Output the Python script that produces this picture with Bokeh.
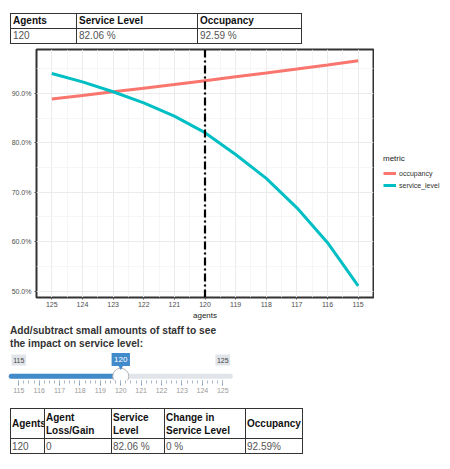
from bokeh.plotting import figure
from bokeh.models import (Range1d, FixedTicker, PrintfTickFormatter, Span, Legend,
                          LegendItem, Div)
from bokeh.layouts import column, row
from bokeh.embed import file_html
from bokeh.resources import INLINE
from bokeh.core.properties import value

# ---------------- data ----------------
agents = [125, 124, 123, 122, 121, 120, 119, 118, 117, 116, 115]
service_level = [94.05, 92.35, 90.35, 88.10, 85.40, 82.06, 77.65, 72.80, 66.85, 59.80, 51.05]
occupancy = [88.89, 89.60, 90.33, 91.07, 91.82, 92.59, 93.37, 94.16, 94.96, 95.78, 96.61]
series_names = ["occupancy", "service_level"]
x_ticks = [115, 116, 117, 118, 119, 120, 121, 122, 123, 124, 125]
y_ticks = [50, 60, 70, 80, 90]
selected_agents = 120
selected_sl = "82.06 %"
selected_occ = "92.59 %"
selected_occ2 = "92.59%"
loss_gain = "0"
sl_change = "0 %"
slider_min, slider_max = 115, 125
intro_text = "Add/subtract small amounts of staff to see the impact on service level:"

FONT = "Liberation Sans"
C_OCC = "#F8766D"
C_SL = "#00BFC4"

# ---------------- top table ----------------
cell = "border:1px solid #333;padding:0 2px;text-align:left;overflow:hidden;white-space:nowrap;"
top_html = f"""
<table style="border-collapse:collapse;table-layout:fixed;width:291px;margin:13px 0 0 10px;
font-family:'{FONT}',Arial,sans-serif;font-size:10px;line-height:12px;">
<colgroup><col style="width:66px"><col style="width:121px"><col style="width:104px"></colgroup>
<tr style="height:15px">
<th style="{cell}font-weight:bold;color:#111;">Agents</th>
<th style="{cell}font-weight:bold;color:#111;">Service Level</th>
<th style="{cell}font-weight:bold;color:#111;">Occupancy</th></tr>
<tr style="height:15px">
<td style="{cell}color:#555;">{selected_agents}</td>
<td style="{cell}color:#555;">{selected_sl}</td>
<td style="{cell}color:#555;">{selected_occ}</td></tr>
</table>"""
top_div = Div(text=top_html, width=440, height=46, margin=(0, 0, 0, 0))

# ---------------- chart ----------------
p = figure(width=374, height=278, x_range=Range1d(125.5, 114.5), y_range=Range1d(48.7, 98.9),
           output_backend="svg", toolbar_location=None,
           min_border_left=36, min_border_right=1, min_border_top=3, min_border_bottom=27)
p.background_fill_color = "white"
p.border_fill_color = "white"
p.outline_line_color = "#333333"
p.outline_line_width = 2

p.xaxis.ticker = FixedTicker(ticks=x_ticks, minor_ticks=[t + 0.5 for t in x_ticks[:-1]])
p.yaxis.ticker = FixedTicker(ticks=y_ticks, minor_ticks=[t + 5 for t in y_ticks])
p.yaxis.formatter = PrintfTickFormatter(format="%.1f%%")
for ax in (p.xaxis[0], p.yaxis[0]):
    ax.axis_line_color = None
    ax.major_tick_line_color = "#555555"
    ax.major_tick_out = 2
    ax.major_tick_in = 0
    ax.minor_tick_line_color = None
    ax.major_label_text_font = FONT
    ax.major_label_text_font_size = "7px"
    ax.major_label_text_color = "#4D4D4D"
    ax.major_label_standoff = 1
p.xaxis.major_label_standoff = 0
p.xaxis.axis_label = "agents"
p.xaxis.axis_label_text_font = FONT
p.xaxis.axis_label_text_font_size = "8px"
p.xaxis.axis_label_text_font_style = "normal"
p.xaxis.axis_label_text_color = "#222222"
p.xaxis.axis_label_standoff = 1

p.grid.grid_line_color = "#EBEBEB"
p.grid.grid_line_width = 1
p.grid.minor_grid_line_color = "#F2F2F2"
p.grid.minor_grid_line_width = 0.7

p.line(agents, occupancy, line_color=C_OCC, line_width=3)
p.line(agents, service_level, line_color=C_SL, line_width=3)

p.add_layout(Span(location=selected_agents, dimension="height", line_color="black",
                  line_width=2.2, line_dash="8 3 2 3"))

# ---------------- legend panel (separate figure to the right) ----------------
lf = figure(width=76, height=278, x_range=Range1d(0, 1), y_range=Range1d(0, 1),
            output_backend="svg", toolbar_location=None, x_axis_location=None,
            y_axis_location=None, min_border_left=0, min_border_right=0,
            min_border_top=0, min_border_bottom=0)
lf.frame_align = False
lf.outline_line_color = None
lf.grid.visible = False
# key renderers: same series, drawn outside this panel's visible range
k_occ = lf.line(agents, occupancy, line_color=C_OCC, line_width=3)
k_sl = lf.line(agents, service_level, line_color=C_SL, line_width=3)
legend = Legend(items=[LegendItem(label=series_names[0], renderers=[k_occ]),
                       LegendItem(label=series_names[1], renderers=[k_sl])],
                location=(9, 134), title="metric",
                title_text_font=FONT, title_text_font_size="8px", title_text_color="#222",
                title_text_font_style="normal", title_standoff=5,
                label_text_font=FONT, label_text_font_size="7px", label_text_color="#333",
                label_height=10, glyph_height=10, glyph_width=13, label_standoff=3,
                spacing=2, padding=2, margin=0,
                background_fill_alpha=0, border_line_color=None)
lf.add_layout(legend)

# ---------------- intro text ----------------
intro_div = Div(text=f"""<div style="font-family:'{FONT}',Arial,sans-serif;font-weight:bold;
font-size:10.2px;line-height:13px;color:#333;width:220px;padding:0 0 0 10px;">{intro_text}</div>""",
                width=440, height=26, margin=(0, 0, 0, 0))

# ---------------- slider ----------------
pad = 0.37
track_y = 4.3
s = figure(width=250, height=48, x_range=Range1d(114.103, 126.36), y_range=Range1d(0, 28),
           output_backend="svg", toolbar_location=None, y_axis_location=None,
           min_border_left=0, min_border_right=0, min_border_top=2, min_border_bottom=18)
s.frame_align = False
s.outline_line_color = None
s.grid.visible = False
s.xaxis.ticker = FixedTicker(ticks=list(range(slider_min, slider_max + 1)),
                             minor_ticks=[slider_min + i * 0.25 for i in range((slider_max - slider_min) * 4 + 1)])
s.xaxis.axis_line_color = None
s.xaxis.major_tick_out = 5
s.xaxis.major_tick_in = 0
s.xaxis.minor_tick_out = 3
s.xaxis.minor_tick_in = 0
s.xaxis.major_tick_line_color = "#7f9cc0"
s.xaxis.minor_tick_line_color = "#a9b6c6"
s.xaxis.major_label_text_font = FONT
s.xaxis.major_label_text_font_size = "7px"
s.xaxis.major_label_text_color = "#999999"
s.xaxis.major_label_standoff = 2

s.line([slider_min - pad, slider_max + pad], [track_y, track_y], line_width=5,
       line_color="#e1e4e9", line_cap="round")
s.line([slider_min - pad, selected_agents], [track_y, track_y], line_width=5,
       line_color="#428bca", line_cap="round")
s.scatter([selected_agents], [track_y], size=16, fill_color="white",
          line_color="#b5b5b5", line_width=1)
s.rect([slider_min, slider_max], [20.5, 20.5], width=0.72, height=11,
       fill_color="#e1e4e9", line_color=None)
s.text([slider_min, slider_max], [20.5, 20.5], text=[str(slider_min), str(slider_max)],
       text_align="center", text_baseline="middle", text_font=value(FONT),
       text_font_size="7px", text_color="#444")
s.rect([selected_agents], [21], width=0.9, height=13, fill_color="#428bca", line_color=None)
s.scatter([selected_agents], [13.5], marker="inverted_triangle", size=5,
          fill_color="#428bca", line_color=None)
s.text([selected_agents], [21], text=[str(selected_agents)], text_align="center",
       text_baseline="middle", text_font=value(FONT), text_font_size="8px", text_color="white")

# ---------------- bottom table ----------------
cell2 = "border:1px solid #333;padding:0 1px;text-align:left;vertical-align:middle;overflow:hidden;"
bot_html = f"""
<table style="border-collapse:collapse;table-layout:fixed;width:292px;margin:10px 0 0 10px;
font-family:'{FONT}',Arial,sans-serif;font-size:10px;line-height:13px;">
<colgroup><col style="width:34px"><col style="width:67px"><col style="width:53px">
<col style="width:81px"><col style="width:57px"></colgroup>
<tr style="height:30px">
<th style="{cell2}font-weight:bold;color:#111;">Agents</th>
<th style="{cell2}font-weight:bold;color:#111;">Agent Loss/Gain</th>
<th style="{cell2}font-weight:bold;color:#111;">Service Level</th>
<th style="{cell2}font-weight:bold;color:#111;">Change in Service Level</th>
<th style="{cell2}font-weight:bold;color:#111;">Occupancy</th></tr>
<tr style="height:15px">
<td style="{cell2}color:#555;">{selected_agents}</td>
<td style="{cell2}color:#555;">{loss_gain}</td>
<td style="{cell2}color:#555;">{selected_sl}</td>
<td style="{cell2}color:#555;">{sl_change}</td>
<td style="{cell2}color:#555;">{selected_occ2}</td></tr>
</table>"""
bot_div = Div(text=bot_html, width=440, height=60, margin=(0, 0, 0, 0))

layout = column(top_div, row(p, lf, spacing=0), intro_div, s, bot_div, spacing=0)
open("out.html", "w").write(file_html(layout, INLINE))
